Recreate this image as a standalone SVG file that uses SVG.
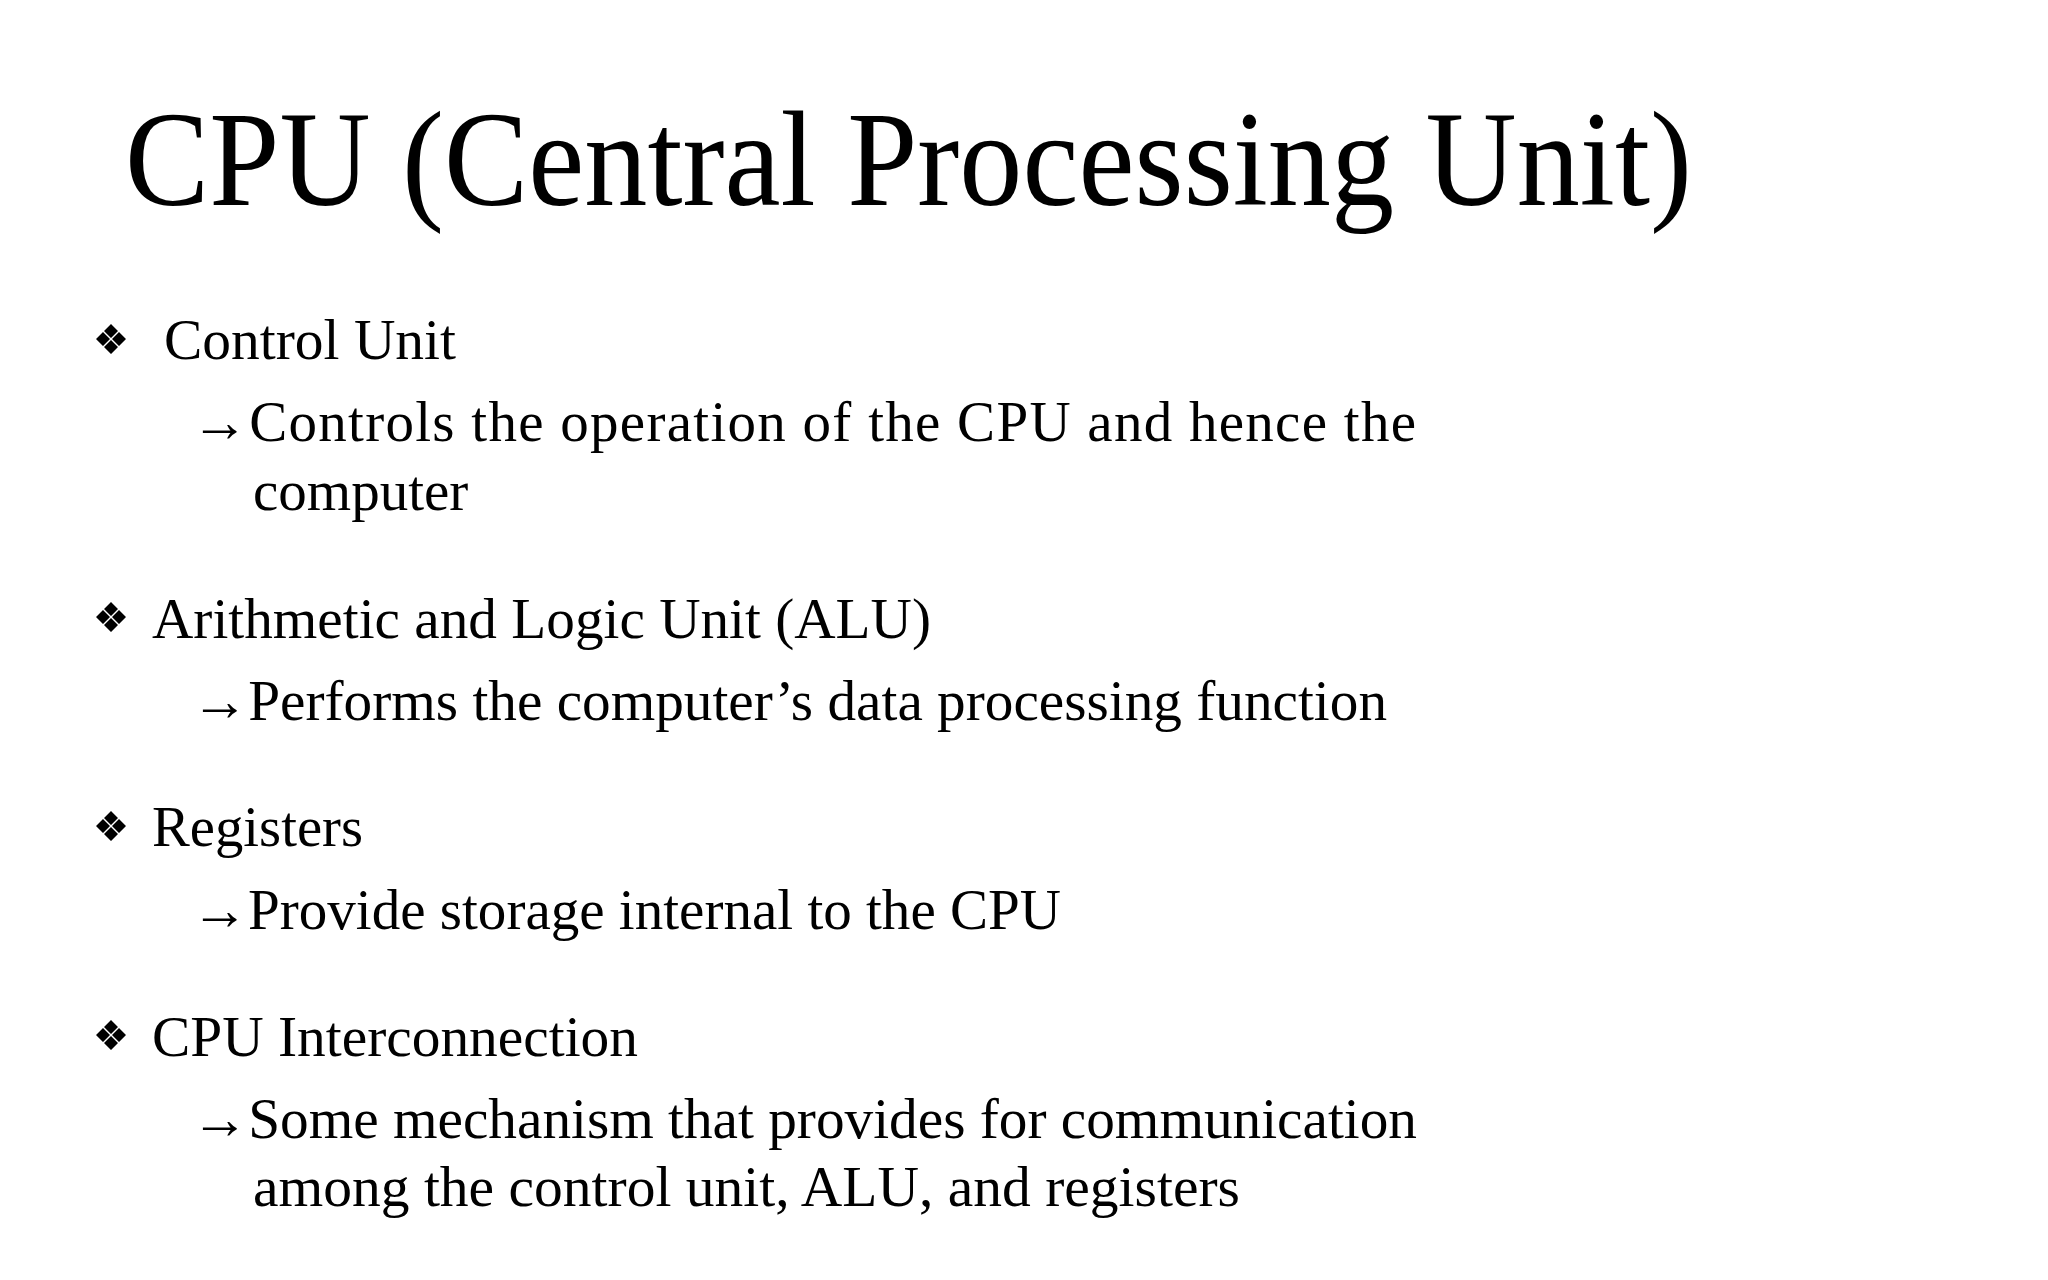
<svg xmlns="http://www.w3.org/2000/svg" width="2048" height="1280" viewBox="0 0 2048 1280">
<defs>
<style>
text{font-family:"Liberation Serif","Times New Roman",serif;fill:#000}
.t{font-size:136px}
.b{font-size:57px}
</style>
<g id="dia"><path d="M0,-15 L7,-8 L0,-1 L-7,-8Z M0,1 L7,8 L0,15 L-7,8Z M-8,-7 L-1,0 L-8,7 L-15,0Z M8,-7 L15,0 L8,7 L1,0Z" fill="#000"/></g>
</defs>
<rect width="2048" height="1280" fill="#fff"/>
<g id="title"><text class="t" x="125" y="205" textLength="1567" lengthAdjust="spacingAndGlyphs">CPU (Central Processing Unit)</text></g>
<g id="item1">
<use href="#dia" x="111" y="339"/>
<text class="b" x="164" y="359" textLength="292" lengthAdjust="spacingAndGlyphs">Control Unit</text>
<text class="b" x="191" y="441" textLength="1225" lengthAdjust="spacing">→Controls the operation of the CPU and hence the</text>
<text class="b" x="253" y="510">computer</text>
</g>
<g id="item2">
<use href="#dia" x="111" y="617"/>
<text class="b" x="152" y="638" textLength="779" lengthAdjust="spacingAndGlyphs">Arithmetic and Logic Unit (ALU)</text>
<text class="b" x="191" y="720" textLength="1196" lengthAdjust="spacingAndGlyphs">→Performs the computer’s data processing function</text>
</g>
<g id="item3">
<use href="#dia" x="111" y="826"/>
<text class="b" x="152" y="846" textLength="211" lengthAdjust="spacingAndGlyphs">Registers</text>
<text class="b" x="191" y="929" textLength="870" lengthAdjust="spacingAndGlyphs">→Provide storage internal to the CPU</text>
</g>
<g id="item4">
<use href="#dia" x="111" y="1035"/>
<text class="b" x="152" y="1056" textLength="486" lengthAdjust="spacingAndGlyphs">CPU Interconnection</text>
<text class="b" x="191" y="1138" textLength="1226" lengthAdjust="spacingAndGlyphs">→Some mechanism that provides for communication</text>
<text class="b" x="253" y="1206" textLength="987" lengthAdjust="spacingAndGlyphs">among the control unit, ALU, and registers</text>
</g>
</svg>
